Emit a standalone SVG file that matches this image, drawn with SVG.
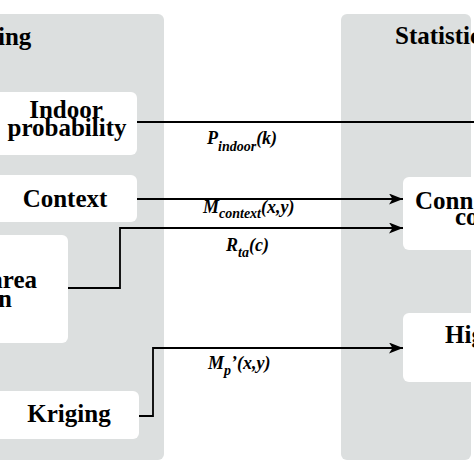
<svg xmlns="http://www.w3.org/2000/svg" width="474" height="474" viewBox="0 0 474 474">
<style>
.panel{fill:#dcdfdf}
.box{fill:#ffffff}
.t{font-family:"Liberation Serif","Times New Roman",serif;font-weight:bold;font-size:25px;fill:#000}
.lbl{font-family:"Liberation Serif","Times New Roman",serif;font-weight:bold;font-style:italic;font-size:18px;fill:#000}
.sub{font-size:14px}
.c{fill:none;stroke:#000;stroke-width:1.8}
</style>
<defs>
<marker id="ah" markerUnits="userSpaceOnUse" markerWidth="15" markerHeight="11" refX="14" refY="5.5" orient="auto">
<path d="M0,0 L14,5.5 L0,11 L3.5,5.5 z" fill="#000"/>
</marker>
</defs>
<rect fill="#fff" width="474" height="474"/>
<g id="panel-left">
<rect class="panel" x="-10" y="14" width="174" height="446" rx="6"/>
<text class="t" x="-2" y="45">ing</text>
</g>
<g id="panel-right">
<rect class="panel" x="341" y="14" width="130" height="446" rx="6"/>
<text class="t" x="395" y="44">Statistic</text>
</g>
<g id="node-indoor">
<rect class="box" x="-10" y="92" width="147" height="63" rx="6"/>
<text class="t" x="66" y="118" text-anchor="middle">Indoor</text>
<text class="t" x="67" y="136" text-anchor="middle">probability</text>
</g>
<g id="node-context">
<rect class="box" x="-10" y="175" width="147" height="47" rx="6"/>
<text class="t" x="65" y="207" text-anchor="middle">Context</text>
</g>
<g id="node-area">
<rect class="box" x="-10" y="235" width="78" height="108" rx="6"/>
<text class="t" x="37" y="288" text-anchor="end">area</text>
<text class="t" x="12" y="307" text-anchor="end">n</text>
</g>
<g id="node-kriging">
<rect class="box" x="-10" y="391" width="149" height="48" rx="6"/>
<text class="t" x="69" y="422" text-anchor="middle">Kriging</text>
</g>
<g id="node-conn">
<rect class="box" x="403" y="177" width="81" height="73" rx="6"/>
<text class="t" x="415" y="209">Conn</text>
<text class="t" x="455" y="225">co</text>
</g>
<g id="node-hig">
<rect class="box" x="403" y="313" width="81" height="69" rx="6"/>
<text class="t" x="445" y="343">Hig</text>
</g>
<g id="connectors">
<path class="c" d="M137,122 H474"/>
<path class="c" d="M137,199 H403" marker-end="url(#ah)"/>
<path class="c" d="M68,288 H120 V228 H403" marker-end="url(#ah)"/>
<path class="c" d="M139,416 H153 V348 H403" marker-end="url(#ah)"/>
<text class="lbl" x="207" y="144">P<tspan class="sub" dy="7">indoor</tspan><tspan dy="-7">(k)</tspan></text>
<text class="lbl" x="203" y="213">M<tspan class="sub" dy="5">context</tspan><tspan dy="-5">(x,y)</tspan></text>
<text class="lbl" x="226" y="251">R<tspan class="sub" dy="6">ta</tspan><tspan dy="-6">(c)</tspan></text>
<text class="lbl" x="208" y="369">M<tspan class="sub" dy="6">p</tspan><tspan dy="-6">’(x,y)</tspan></text>
</g>
</svg>
